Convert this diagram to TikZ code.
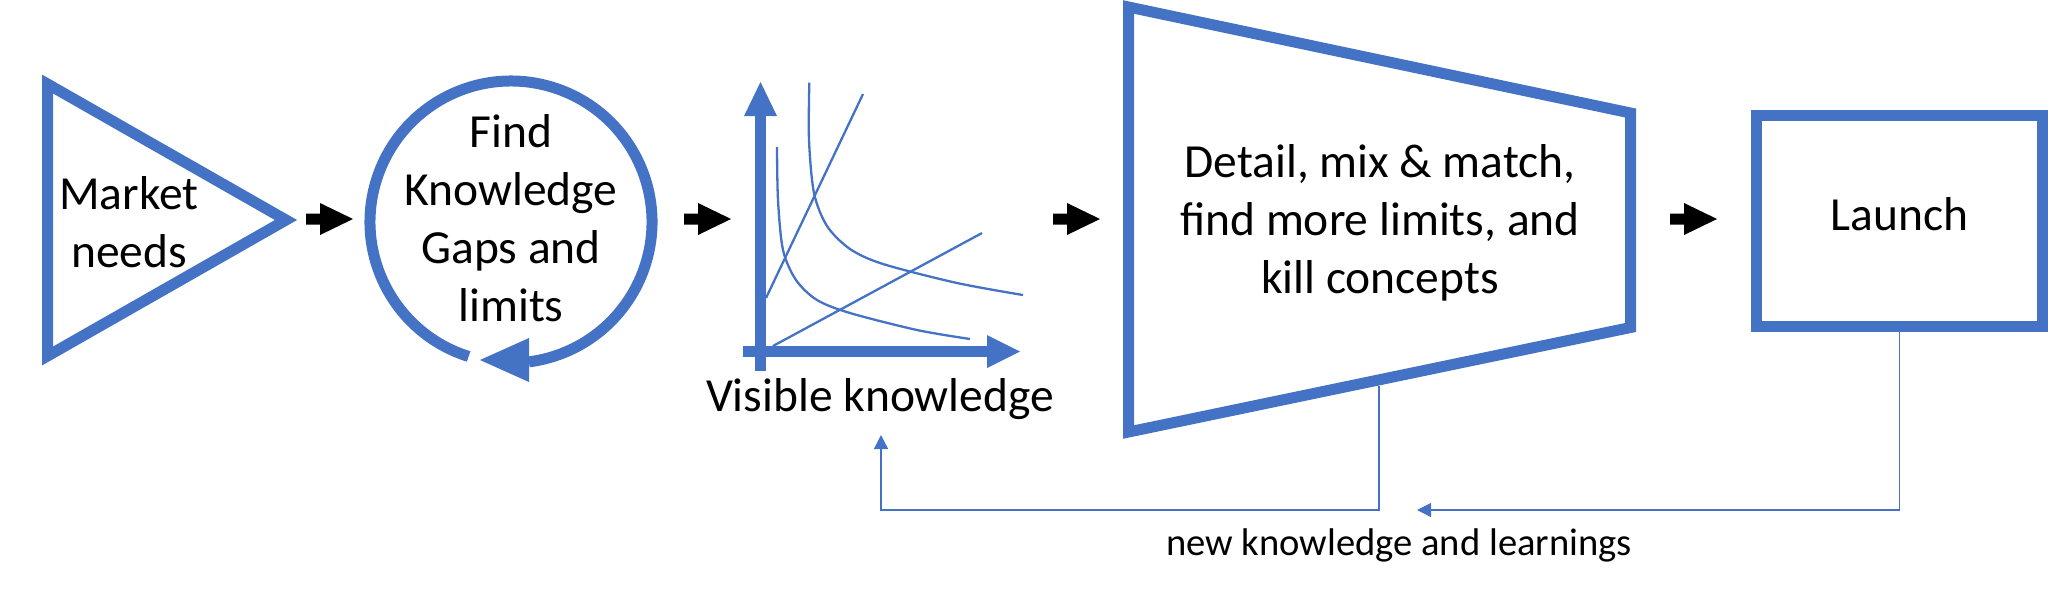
\documentclass[tikz,border=0pt]{standalone}
\usepackage{fontspec}
\setmainfont{Carlito}
\usetikzlibrary{arrows.meta}
\definecolor{accent}{HTML}{4472C4}
\tikzset{
  blkarrow/.pic={\fill[black] (0,-5.5) -- (14,-5.5) -- (14,-16) -- (47,0) -- (14,16) -- (14,5.5) -- (0,5.5) -- cycle;},
}
\begin{document}
\begin{tikzpicture}[x=0.5pt,y=-0.5pt,
  big/.style={font=\fontsize{23.75pt}{29pt}\selectfont, align=center, inner sep=0pt},
  small/.style={font=\fontsize{19.3pt}{23pt}\selectfont, inner sep=0pt},
  bluebold/.style={draw=accent, line width=5.5pt, line join=miter},
  curveline/.style={draw=accent, line width=1.15pt},
  fb/.style={draw=accent, line width=0.65pt, -{Triangle[length=7pt,width=7pt]}},
  ]
\useasboundingbox (0,0) rectangle (2048,591);

% Market needs triangle
\draw[bluebold] (47.5,84) -- (286,220) -- (47.5,356) -- cycle;
\node[big] (mkt) at (129,222) {Market\\needs};

% circle with arrow
\draw[bluebold] ([shift={(107.5:141)}]511,222) arc[start angle=107.5, end angle=442.7, radius=141];
\fill[accent] (529,338) -- (529,382) -- (480,360) -- cycle;
\node[big] (gaps) at (511,218) {Find\\Knowledge\\Gaps and\\limits};

% graph
\draw[accent, line width=5.5pt] (760.5,371) -- (760.5,114);
\fill[accent] (744,116) -- (777,116) -- (760.5,82) -- cycle;
\draw[accent, line width=5.5pt] (743,351.5) -- (989,351.5);
\fill[accent] (987,335) -- (987,368) -- (1020,351.5) -- cycle;
\draw[curveline] (766,298) -- (863,94);
\draw[curveline] (773,346) -- (982,233);
\draw[curveline] plot[smooth] coordinates {(777,147) (778,200) (783,250) (796,280) (817,300) (850,313) (917,330) (970,339)};
\draw[curveline] plot[smooth] coordinates {(809.3,82.7) (809,140) (814,193) (827,226) (850,249) (883,264) (957,283) (1023,295)};
\node[big, anchor=base] (vis) at (880,411) {Visible knowledge};

% trapezoid
\draw[bluebold] (1128.5,7) -- (1630.5,113) -- (1630.5,327.5) -- (1128.5,432) -- cycle;
\node[big] (detail) at (1380,223) {Detail, mix \& match,\\find more limits, and\\kill concepts};

% launch
\node[big, draw=accent, line width=5.5pt, minimum width=143pt, minimum height=105.5pt, text height=16.5pt, text depth=7pt] (launch) at (1899.5,220.5) {Launch};

% black arrows
\pic at (306,219) {blkarrow};
\pic at (684,219) {blkarrow};
\pic at (1053,219) {blkarrow};
\pic at (1670,219) {blkarrow};

% feedback
\coordinate (trapB) at (1379,386);
\coordinate (vkB) at (881,435);
\coordinate (fbL) at (1417,510);
\draw[fb] (trapB) |- (881,510) -- (vkB);
\draw[fb] (launch.south) |- (fbL);
\node[small, anchor=base] (learn) at (1399,555) {new knowledge and learnings};
\end{tikzpicture}
\end{document}
